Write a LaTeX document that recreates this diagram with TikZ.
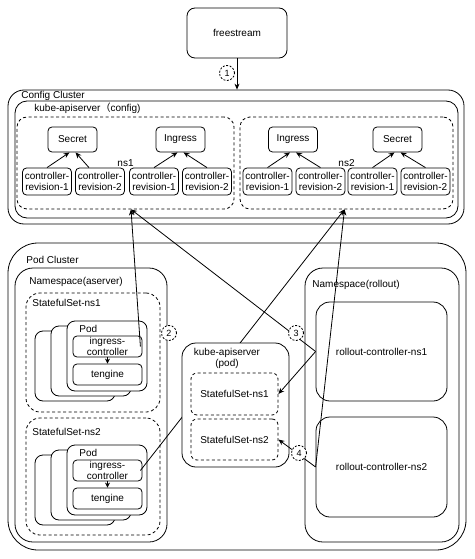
\documentclass[tikz,border=0pt]{standalone}
\usepackage{fontspec}
\setmainfont{Liberation Sans}
\newfontfamily\cjk{Noto Sans CJK SC}
\usetikzlibrary{arrows.meta}

\begin{document}
\begin{tikzpicture}[x=1pt,y=-1pt,
        font=\fontsize{10}{11}\selectfont,line width=0.8pt,
        box/.style={draw,rounded corners=#1,inner sep=1pt,align=center},box/.default=5pt,
        dbox/.style={box=#1,dash pattern=on 3pt off 2.5pt},dbox/.default=6pt,
        rev/.style={box=4pt,inner sep=0pt,minimum width=49pt,minimum height=27pt},
        pod/.style={box=8pt,fill=white,minimum width=80pt,minimum height=70pt},
        lbl/.style={inner sep=0pt,anchor=west},
        num/.style={draw,circle,fill=white,dash pattern=on 2pt off 1.5pt,inner sep=0pt,minimum size=15pt,font=\fontsize{9}{9}\selectfont},
        arr/.style={-{Stealth[length=6pt,width=5pt]}}]

    \useasboundingbox (0,0) rectangle (474,559);

    \node[box=8pt,minimum width=100pt,minimum height=50pt] (fs) at (237,33) {freestream};

    % config cluster
    \node[box=16pt,minimum width=456pt,minimum height=134pt] (cc) at (236,157) {};
    \node[lbl] at (21,96) {Config Cluster};
    \node[box=12pt,minimum width=443pt,minimum height=117pt] (kc) at (236.5,159.5) {};
    \node[lbl] at (34,108) {kube-apiserver{\cjk （}config)};
    \node[dbox=10pt,minimum width=217pt,minimum height=92pt] (ns1) at (125.5,163) {ns1};
    \node[dbox=10pt,minimum width=213pt,minimum height=92pt] (ns2) at (346.5,163) {ns2};

    \node[box=4pt,minimum width=49pt,minimum height=25pt] (sec1) at (72.5,139.5) {Secret};
    \node[box=4pt,minimum width=49pt,minimum height=25pt] (ing1) at (180.5,139.5) {Ingress};
    \node[box=4pt,minimum width=49pt,minimum height=25pt] (ing2) at (293,139.5) {Ingress};
    \node[box=4pt,minimum width=49pt,minimum height=25pt] (sec2) at (397.5,139.5) {Secret};

    \node[rev] (r11) at (47,181.5) {controller-\\revision-1};
    \node[rev] (r12) at (100,181.5) {controller-\\revision-2};
    \node[rev] (r13) at (154,181.5) {controller-\\revision-1};
    \node[rev] (r14) at (207,181.5) {controller-\\revision-2};
    \node[rev] (r21) at (267.5,181.5) {controller-\\revision-1};
    \node[rev] (r22) at (320.5,181.5) {controller-\\revision-2};
    \node[rev] (r23) at (372.5,181.5) {controller-\\revision-1};
    \node[rev] (r24) at (425.5,181.5) {controller-\\revision-2};

    \draw[arr] (r11.north) -- ([xshift=-3pt]sec1.south);
    \draw[arr] ([xshift=-11pt]r12.north) -- ([xshift=3pt]sec1.south);
    \draw[arr] (r13.north) -- ([xshift=-3pt]ing1.south);
    \draw[arr] (r14.north) -- ([xshift=3pt]ing1.south);
    \draw[arr] (r21.north) -- ([xshift=-3pt]ing2.south);
    \draw[arr] (r22.north) -- ([xshift=3pt]ing2.south);
    \draw[arr] (r23.north) -- ([xshift=-3pt]sec2.south);
    \draw[arr] (r24.north) -- ([xshift=3pt]sec2.south);

    % pod cluster
    \node[box=30pt,minimum width=458pt,minimum height=307pt] (pc) at (237,396.5) {};
    \node[lbl] at (26,260) {Pod Cluster};
    \node[box=18pt,minimum width=152pt,minimum height=274pt] (nsa) at (91,405) {};
    \node[lbl] at (29,282) {Namespace(aserver)};
    \node[dbox=14pt,minimum width=134pt,minimum height=119pt] (sts1) at (93,352.5) {};
    \node[lbl] at (32,303) {StatefulSet-ns1};
    \node[dbox=14pt,minimum width=134pt,minimum height=117pt] (sts2) at (93,476.5) {};
    \node[lbl] at (32,432) {StatefulSet-ns2};

    \foreach \i/\dy in {1/0,2/124}{
        \node[pod] at (75,{366+\dy}) {};
        \node[pod] at (91,{361+\dy}) {};
        \node[pod] (pod\i) at (107,{356+\dy}) {};
        \node[lbl] at (79,{329+\dy}) {Pod};
        \node[box=4pt,inner sep=0pt,minimum width=69pt,minimum height=21pt] (ic\i) at (107.5,{346.5+\dy}) {ingress-\\controller};
        \node[box=4pt,inner sep=0pt,minimum width=69pt,minimum height=21pt] (tg\i) at (107.5,{374.5+\dy}) {tengine};
        \draw[-{Stealth[length=5pt,width=5pt]}] (ic\i) -- (tg\i);
    }

    \node[box=18pt,minimum width=154pt,minimum height=274pt] (nsr) at (382,405) {};
    \node[lbl] at (312,285) {Namespace(rollout)};
    \node[box=14pt,minimum width=131pt,minimum height=99pt] (rc1) at (381.5,351.5) {rollout-controller-ns1};
    \node[box=14pt,minimum width=131pt,minimum height=100pt] (rc2) at (381.5,467) {rollout-controller-ns2};

    \draw[arr] ([xshift=-2pt]ic2.east) -- ([xshift=-2pt]ns2.south);

    \node[box=14pt,fill=white,minimum width=107pt,minimum height=124pt] (kp) at (235.5,405) {};
    \node[inner sep=0pt,align=center] at (227,358.5) {kube-apiserver\\(pod)};
    \node[dbox=6pt,minimum width=87pt,minimum height=42pt] (ssp1) at (234.5,394) {StatefulSet-ns1};
    \node[dbox=6pt,minimum width=87pt,minimum height=41pt] (ssp2) at (234.5,439.5) {StatefulSet-ns2};

    \draw[arr] (fs.south) -- (fs.south |- cc.north);
    \draw[arr] ([xshift=-2pt]ic1.east) -- ([xshift=5.5pt]ns1.south);
    \draw[arr] (rc1.west) -- ([xshift=5.5pt]ns1.south);
    \draw[arr] (rc1.west) -- (ssp1.east);
    \draw[arr] (rc2.west) -- ([xshift=-2pt]ns2.south);
    \draw[arr] (rc2.west) -- (ssp2.east);

    \node[num] (n1) at (227,73) {1};
    \node[num] (n2) at (169,333) {2};
    \node[num] (n3) at (296,333) {3};
    \node[num] (n4) at (299,453) {4};
\end{tikzpicture}
\end{document}
